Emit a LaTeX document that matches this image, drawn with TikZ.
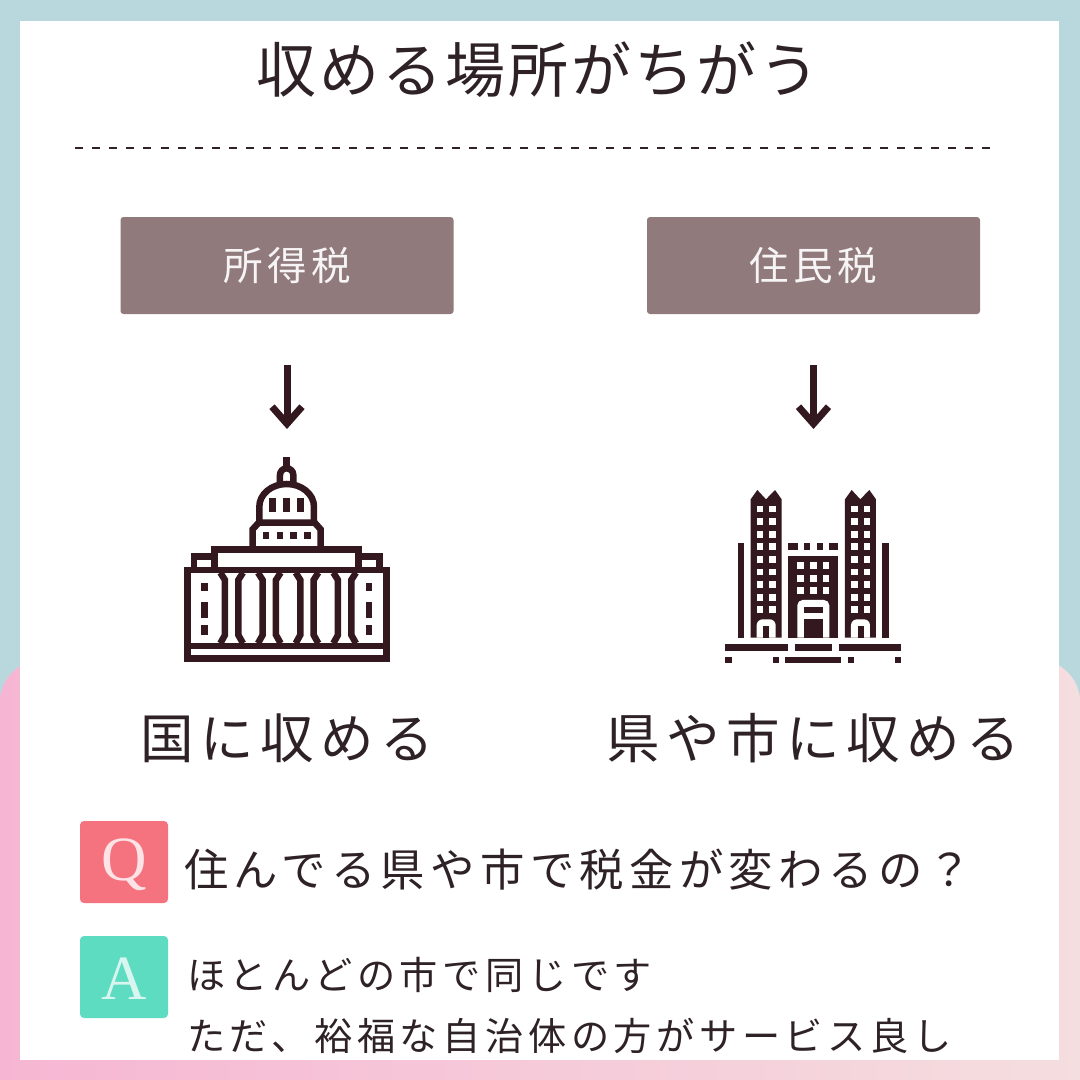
\documentclass[tikz,border=0pt]{standalone}
\usepackage{fontspec}
\usetikzlibrary{arrows.meta}
\newfontfamily\jpfont[LetterSpace=12]{Noto Sans CJK JP}
\newfontfamily\jptitlefont[LetterSpace=5]{Noto Sans CJK JP}
\newfontfamily\latinfont{Liberation Serif}
\definecolor{inkdark}{HTML}{33181F}
\definecolor{textdark}{HTML}{2E2226}
\definecolor{boxtaupe}{HTML}{907A7C}
\definecolor{bgteal}{HTML}{B9D8DE}
\definecolor{bgpink}{HTML}{F6B6D3}
\definecolor{bgpale}{HTML}{F5DEDF}
\definecolor{qpink}{HTML}{F5727F}
\definecolor{aminty}{HTML}{5EDCC2}
\tikzset{
    taxbox/.style={fill=boxtaupe, rounded corners=3pt, minimum width=333pt, minimum height=97pt, inner sep=0pt, text=white!92!boxtaupe, font=\jpfont\fontsize{39.5}{44}\selectfont},
    letterbox/.style={rounded corners=4pt, minimum width=88pt, minimum height=82pt, inner sep=0pt, font=\latinfont\fontsize{63}{66}\selectfont},
    headtext/.style={inner sep=0pt, text=textdark, font=\jptitlefont\fontsize{60}{70}\selectfont},
    placetext/.style={inner sep=0pt, text=textdark, font=\jpfont\fontsize{53.5}{60}\selectfont},
    asktext/.style={inner sep=0pt, anchor=west, text=textdark, font=\jpfont\fontsize{44.4}{50}\selectfont},
    replytext/.style={inner sep=0pt, anchor=west, text=textdark, font=\jpfont\fontsize{38.2}{44}\selectfont},
    downarrow/.style={draw=inkdark, line width=7pt, -{Straight Barb[length=17pt, width=30pt, line width=7pt]}},
    iconline/.style={draw=inkdark, line width=6.5pt},
    iconfill/.style={fill=inkdark},
    iconhole/.style={fill=white}
}
\begin{document}
\begin{tikzpicture}[x=1pt, y=-1pt]
    \useasboundingbox (0,0) rectangle (1080,1080);
    \fill[bgteal] (0,0) rectangle (1080,1080);
    \shade[left color=bgpink, right color=bgpale, rounded corners=42pt] (0,660) rectangle (1080,1140);
    \fill[white] (20,21) rectangle (1059,1060);

    \node[headtext] (title) at (538,70) {収める場所がちがう};
    \coordinate (ruleL) at (75,148);
    \coordinate (ruleR) at (990,148);
    \draw[textdark, line width=1.5pt, dash pattern=on 8pt off 9.12pt] (ruleL) -- (ruleR);

    \node[taxbox] (income) at (287,265.5) {所得税};
    \node[taxbox] (resident) at (813.5,265.5) {住民税};

    \coordinate (arrowAtop) at (287,365);
    \coordinate (arrowAend) at (287,429);
    \coordinate (arrowBtop) at (813.5,365);
    \coordinate (arrowBend) at (813.5,429);
    \draw[downarrow] (arrowAtop) -- (arrowAend);
    \draw[downarrow] (arrowBtop) -- (arrowBend);

    \begin{scope}[shift={(170,350)}, x=0.3333pt, y=-0.3333pt]
        \draw[iconline] (52,660) rectangle (649,926);
        \draw[iconline] (52,888) -- (649,888);
        \draw[iconline] (134,660) -- (134,598) -- (566,598) -- (566,660);
        \draw[iconline] (134,619) -- (72,619) -- (72,660);
        \draw[iconline] (566,619) -- (628,619) -- (628,660);
        \draw[iconline] (134,660) -- (566,660);
        \draw[iconline] (248,598) -- (248,538) -- (266,518) -- (434,518) -- (452,538) -- (452,598);
        \draw[iconline] (268,518) -- (268,470) arc (180:360:82 and 68) -- (432,518);
        \draw[iconline] (330,402) -- (330,375) arc (180:360:20) -- (370,402);
        \fill[inkdark] (340,322) rectangle (360,350);
        \foreach \xa in {298,340,381}
            \fill[iconfill] (\xa,443) rectangle +(21,42);
        \foreach \xa in {278,320,361,402}
            \fill[iconfill] (\xa,547) rectangle +(20,20);
        \foreach \xa in {93,587} {
            \fill[iconfill] (\xa,700) rectangle +(20,22);
            \fill[iconfill] (\xa,755) rectangle +(20,48);
            \fill[iconfill] (\xa,825) rectangle +(20,30);
        }
        \foreach \xa in {165,278,391,504} {
            \draw[iconline] (\xa-14,668) -- (\xa,690) -- (\xa,855) -- (\xa-14,880);
            \draw[iconline] (\xa+54,668) -- (\xa+40,690) -- (\xa+40,855) -- (\xa+54,880);
        }
    \end{scope}

    \begin{scope}[shift={(710,350)}, x=0.3333pt, y=-0.3333pt]
        \foreach \xa in {0,283} {
            \begin{scope}[xshift=\xa*0.3333pt]
                \fill[iconfill] (122,863) -- (122,448) -- (142,420) -- (168,448) -- (195,420) -- (215,448) -- (215,863) -- cycle;
                \foreach \ya in {0,...,8} {
                    \fill[iconhole] (140,467+\ya*37.8) rectangle +(20,20);
                    \fill[iconhole] (178,467+\ya*37.8) rectangle +(19,20);
                }
                \fill[iconhole] (140,863) -- (140,826) arc (180:270:18) -- (179,808) arc (270:360:18) -- (197,863) -- cycle;
                \fill[iconfill] (160,828) rectangle (178,863);
            \end{scope}
        }
        \fill[iconfill] (84,580) rectangle (102,863);
        \fill[iconfill] (517,580) rectangle (536,863);
        \fill[iconfill] (235,618) rectangle (385,863);
        \foreach \xa in {262,300,338}
            \foreach \ya in {637,675,712}
                \fill[iconhole] (\xa,\ya) rectangle +(20,20);
        \fill[iconhole] (262,863) -- (262,766) arc (180:270:16) -- (342,750) arc (270:360:16) -- (358,863) -- cycle;
        \fill[iconfill] (282,770) rectangle (338,788);
        \fill[iconfill] (282,808) rectangle (338,863);
        \fill[iconfill] (235,580) rectangle (263,600);
        \fill[iconfill] (282,580) rectangle (300,600);
        \fill[iconfill] (320,580) rectangle (338,600);
        \fill[iconfill] (358,580) rectangle (385,600);
        \fill[iconfill] (46,882) rectangle (234,902);
        \fill[iconfill] (254,882) rectangle (366,902);
        \fill[iconfill] (386,882) rectangle (574,902);
        \fill[iconfill] (46,921) rectangle (65,939);
        \fill[iconfill] (188,921) rectangle (206,939);
        \fill[iconfill] (225,921) rectangle (394,939);
        \fill[iconfill] (414,921) rectangle (432,939);
        \fill[iconfill] (556,921) rectangle (574,939);
    \end{scope}

    \node[placetext] (country) at (287,738) {国に収める};
    \node[placetext] (prefecture) at (813,738) {県や市に収める};

    \node[letterbox, fill=qpink, text=white!80!qpink, text height=40pt, text depth=4pt] (qbox) at (124,862) {Q};
    \node[letterbox, fill=aminty, text=white!75!aminty, text height=44pt, text depth=0pt] (abox) at (124,977) {A};
    \node[asktext] (question) at (184,870) {住んでる県や市で税金が変わるの？};
    \node[replytext] (answerA) at (187,975) {ほとんどの市で同じです};
    \node[replytext] (answerB) at (187,1036) {ただ、裕福な自治体の方がサービス良し};
\end{tikzpicture}
\end{document}
